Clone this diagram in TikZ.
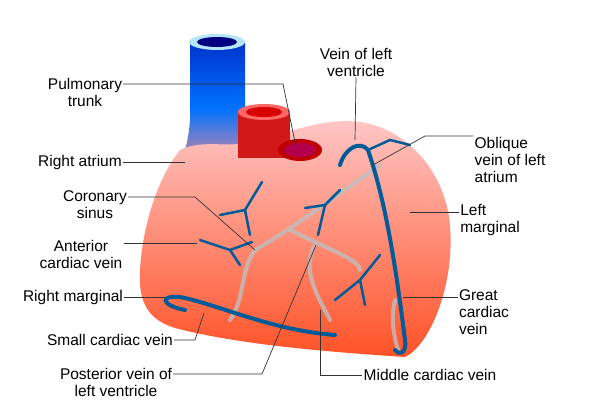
\documentclass[tikz,border=0pt]{standalone}
\usepackage{fontspec}
\setmainfont{Liberation Sans}
\begin{document}
\begin{tikzpicture}[x=1pt,y=-1pt,
  lbl/.style={font=\fontsize{15.5}{17}\selectfont, inner sep=1pt, align=center},
  lead/.style={draw=black!80, line width=0.7pt},
  vein/.style={draw=blue!40!cyan!60!black, line width=4pt, line cap=round},
  veinthin/.style={draw=blue!40!cyan!60!black, line width=2.5pt, line cap=round},
  grey/.style={draw=gray!50, line width=4pt, line cap=round, opacity=0.8}]
\fill[white] (0,0) rectangle (613,407);
% pulmonary trunk (blue)
\shade[top color=blue!75!cyan!80!black, bottom color=red!45!white, middle color=blue!55!cyan]
  (190,42) -- (190,120) .. controls (188,150) and (180,160) .. (178,175) -- (230,170) -- (245,120) -- (245,42) -- cycle;
% heart body
\shade[top color=red!22!white, bottom color=red!60!orange!85!white, shading angle=0]
  (180,150) .. controls (205,138) and (230,150) .. (260,140)
  .. controls (300,128) and (330,118) .. (360,122)
  .. controls (405,128) and (445,170) .. (450,225)
  .. controls (455,285) and (430,345) .. (405,357)
  .. controls (330,352) and (240,345) .. (175,328)
  .. controls (150,320) and (138,305) .. (140,270)
  .. controls (143,220) and (160,175) .. (180,150) -- cycle;
% aorta (red)
\fill[red!80!black!90] (238,112) -- (238,158) -- (290,158) -- (290,112) -- cycle;
\fill[red!60!white] (264,112) ellipse (26 and 8);
\fill[red!85!black] (264,112) ellipse (18 and 5);
% pulmonary trunk top
\fill[cyan!30!white] (217,42) ellipse (28 and 8);
\fill[blue!50!black] (217,42) ellipse (20 and 5);
% pulmonary veins
\fill[red!75!black] (300,150) ellipse (22 and 11);
\fill[violet!60!red] (300,150) ellipse (16 and 7);
% grey posterior vessels
\draw[grey] (255,250) .. controls (290,230) and (330,200) .. (380,165);
\draw[grey] (255,250) .. controls (240,270) and (245,300) .. (230,320);
\draw[grey] (315,245) .. controls (300,270) and (320,300) .. (330,320);
\draw[grey] (290,230) .. controls (330,250) and (360,260) .. (360,270);
\draw[grey] (395,300) .. controls (390,320) and (395,340) .. (398,350);
% anterior veins (blue branches)
\draw[veinthin] (220,215) -- (245,210) -- (262,182);
\draw[veinthin] (245,210) -- (250,235);
\draw[veinthin] (200,240) -- (230,250) -- (240,265);
\draw[veinthin] (230,250) -- (252,242);
\draw[veinthin] (305,208) -- (325,205) -- (340,190);
\draw[veinthin] (325,205) -- (318,235);
\draw[veinthin] (335,300) -- (360,280) -- (380,255);
\draw[veinthin] (360,280) -- (365,305);
% great cardiac vein
\draw[vein] (340,165) .. controls (345,148) and (360,140) .. (368,150)
  .. controls (385,200) and (395,260) .. (405,340) .. controls (407,355) and (398,355) .. (395,350);
\draw[veinthin] (368,150) -- (390,140) -- (410,145);
% small cardiac vein
\draw[vein] (185,310) .. controls (160,305) and (160,295) .. (180,297)
  .. controls (220,305) and (270,330) .. (335,335);
% labels
\node[lbl] (pt) at (85,92) {Pulmonary\\trunk};
\node[lbl] (vlv) at (356,62) {Vein of left\\ventricle};
\node[lbl] (ra) at (80,162) {Right atrium};
\node[lbl, align=left] (ov) at (510,160) {Oblique\\vein of left\\atrium};
\node[lbl] (cs) at (95,205) {Coronary\\sinus};
\node[lbl, align=left] (lm) at (490,220) {Left\\marginal};
\node[lbl] (acv) at (81,254) {Anterior\\cardiac vein};
\node[lbl] (rm) at (73,297) {Right marginal};
\node[lbl, align=left] (gcv) at (484,312) {Great\\cardiac\\vein};
\node[lbl] (scv) at (110,340) {Small cardiac vein};
\node[lbl] (pv) at (116,382) {Posterior vein of\\left ventricle};
\node[lbl] (mcv) at (430,375) {Middle cardiac vein};
% leader lines
\coordinate (pte) at (296,147);
\draw[lead] (pt.east) ++(0,-8) -- (283,84) -- (pte);
\coordinate (vlve) at (355,140);
\draw[lead] (vlv.south) -- (vlve);
\coordinate (rae) at (185,162);
\draw[lead] (ra.east) -- (rae);
\coordinate (ove) at (373,165);
\draw[lead] (ov.west) ++(0,-24) -- (425,136) -- (ove);
\coordinate (cse) at (255,250);
\draw[lead] (cs.east) ++(0,-8) -- (195,197) -- (cse);
\coordinate (lme) at (410,212);
\draw[lead] (lm.west) ++(0,-8) -- (lme);
\coordinate (acve) at (197,243);
\draw[lead] (acv.east) ++(0,-11) -- (acve);
\coordinate (rme) at (165,297);
\draw[lead] (rm.east) -- (rme);
\coordinate (gcve) at (403,297);
\draw[lead] (gcv.west) ++(0,-15) -- (gcve);
\coordinate (scve) at (204,313);
\draw[lead] (scv.east) -- (195,340) -- (scve);
\coordinate (pve) at (316,245);
\draw[lead] (pv.east) ++(0,-8) -- (262,374) -- (pve);
\coordinate (mcve) at (320,310);
\draw[lead] (mcv.west) -- (320,375) -- (mcve);
\end{tikzpicture}
\end{document}
